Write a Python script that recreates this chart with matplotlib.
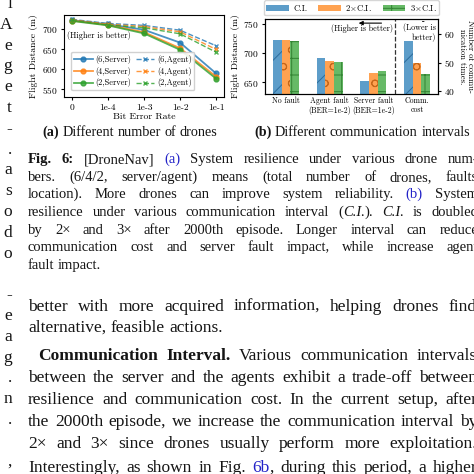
import matplotlib
matplotlib.use("Agg")
import matplotlib.pyplot as plt

W = 474  # figure size in pixels (square)

# (a) flight distance vs bit error rate
ber_labels = ["0", "1e-4", "1e-3", "1e-2", "1e-1"]
server6 = [722, 712, 698, 666, 589]
server4 = [721, 710, 692, 652, 581]
server2 = [720, 709, 689, 648, 576]
agent6 = [724, 714, 709, 697, 658]
agent4 = [723, 712, 706, 693, 649]
agent2 = [722, 710, 703, 688, 642]

# (b) communication intervals
group_labels = ["No fault", "Agent fault\n(BER=1e-2)", "Server fault\n(BER=1e-2)", "Comm.\ncost"]
ci_labels = ["C.I.", r"2$\times$C.I.", r"3$\times$C.I."]
dist_ci1 = [722, 691, 653]
dist_ci2 = [722, 687, 666]
dist_ci3 = [721, 685, 670]
comm_times = [60, 50, 46]

# page text around the figure
caption_lines = [
    "b~Fig. b~6: [DroneNav] l~(a) System resilience under various drone num-",
    "bers. (6/4/2, server/agent) means (total number of drones, faults",
    "location). More drones can improve system reliability. l~(b) System",
    "resilience under various communication interval (|i~C.I.|). i~C.I. is doubled",
    "by 2× and 3× after 2000th episode. Longer interval can reduce",
    "communication cost and server fault impact, while increase agent",
    "fault impact.",
]
body_lines = [
    "better with more acquired information, helping drones find",
    "alternative, feasible actions.",
    "b~Communication b~Interval. Various communication intervals",
    "between the server and the agents exhibit a trade-off between",
    "resilience and communication cost. In the current setup, after",
    "the 2000th episode, we increase the communication interval by",
    "2× and 3× since drones usually perform more exploitation.",
    "Interestingly, as shown in Fig. l~6b|, during this period, a higher",
]
left_col_chars = ["l", "A", "e", "g", "e", "t", "-", ".", "a", "s", "o", "d", "o", "",
                  "-", "e", "a", "g", ".", "n", ".", "", ","]

plt.rcParams["font.family"] = ["cmr10", "DejaVu Serif"]
plt.rcParams["mathtext.fontset"] = "cm"
plt.rcParams["axes.formatter.use_mathtext"] = True
plt.rcParams["axes.linewidth"] = 0.8
plt.rcParams["hatch.linewidth"] = 0.7

blue, orange, green = "#1f77b4", "#ff7f0e", "#2ca02c"

fig = plt.figure(figsize=(W / 100, W / 100), dpi=100)


def ax_box(left, top, right, bottom):
    return [left / W, 1 - bottom / W, (right - left) / W, (bottom - top) / W]


# ---- (a) line chart
ax1 = fig.add_axes(ax_box(64, 15, 224, 97))
xs = range(len(ber_labels))
for vals, c, lab in [(server6, blue, "(6,Server)"), (server4, orange, "(4,Server)"),
                     (server2, green, "(2,Server)")]:
    ax1.plot(xs, vals, "-o", color=c, alpha=0.8, lw=1.3, ms=3.5, label=lab)
for vals, c, lab in [(agent6, blue, "(6,Agent)"), (agent4, orange, "(4,Agent)"),
                     (agent2, green, "(2,Agent)")]:
    ax1.plot(xs, vals, "--x", color=c, alpha=0.8, lw=1.0, ms=3.5, label=lab)
ax1.set_xlim(-0.22, 4.22)
ax1.set_ylim(530, 735)
ax1.set_yticks([550, 600, 650, 700])
ax1.set_xticks(list(xs))
ax1.set_xticklabels(ber_labels)
ax1.tick_params(labelsize=6.8, length=2.5, pad=2)
ax1.set_xlabel("Bit Error Rate", fontsize=7, labelpad=1)
ax1.set_ylabel("Flight Distance (m)", fontsize=7, labelpad=3)
ax1.text(0.02, 0.72, "(Higher is better)", transform=ax1.transAxes, fontsize=6)
ax1.legend(ncol=2, loc="lower left", bbox_to_anchor=(0.02, 0.03), fontsize=6,
           handlelength=2.2, columnspacing=0.6, labelspacing=0.35, borderpad=0.35,
           handletextpad=0.3, framealpha=0.9)

# ---- (b) bar chart with twin axis
ax2 = fig.add_axes(ax_box(265, 19, 438, 94))
ax3 = ax2.twinx()
bw = 0.2
gx = list(range(len(group_labels)))
styles = [(blue, "/", "#1a5a8a"), (orange, "o", "#b5560a"), (green, "+", "#1f6f1f")]
dists = [dist_ci1, dist_ci2, dist_ci3]
for k, ((fc, hat, hc), vals) in enumerate(zip(styles, dists)):
    off = (k - 1) * bw
    ax2.bar([g + off for g in gx[:3]], vals, bw, color=fc, alpha=0.72, hatch=hat,
            edgecolor=hc, lw=0, label=ci_labels[k])
    ax3.bar(gx[3] + off, comm_times[k], bw, color=fc, alpha=0.72, hatch=hat,
            edgecolor=hc, lw=0)
ax2.set_xlim(-0.48, 3.48)
ax2.set_ylim(630, 758)
ax2.set_yticks([650, 700, 750])
ax3.set_ylim(39, 65.3)
ax3.set_yticks([40, 50, 60])
ax2.set_xticks(gx)
ax2.set_xticklabels(group_labels, linespacing=1.1)
ax2.tick_params(labelsize=6.8, length=2.5, pad=2)
ax2.tick_params(axis="x", length=0, labelsize=5.6)
ax3.tick_params(labelsize=6.8, length=2.5, pad=2)
ax2.set_ylabel("Flight Distance (m)", fontsize=7, labelpad=2)
ax3.set_ylabel("Number of commu-\nnication times.", fontsize=6.2, rotation=270,
               labelpad=14, linespacing=1.0)
ax2.axvline(2.5, color="#333333", lw=0.9, ls="--")
ax2.annotate("", xy=(1.6, 0.945), xytext=(2.25, 0.945), xycoords=("data", "axes fraction"),
             arrowprops=dict(arrowstyle="-|>", color="black", lw=0.8, mutation_scale=6))
ax2.text(2.44, 0.875, "(Higher is better)", transform=ax2.get_xaxis_transform(),
         fontsize=5.8, ha="right", va="center")
ax2.annotate("", xy=(3.3, 0.945), xytext=(2.7, 0.945), xycoords=("data", "axes fraction"),
             arrowprops=dict(arrowstyle="-|>", color="black", lw=0.8, mutation_scale=6))
ax3.text(3.43, 0.83, "(Lower is\nbetter)", transform=ax3.get_xaxis_transform(),
         fontsize=5.8, ha="right", va="center", multialignment="right", linespacing=1.0,
         zorder=5, bbox=dict(fc="white", ec="none", pad=0.5))
ax2.legend(ncol=3, loc="lower center", bbox_to_anchor=(0.5, 0.99), fontsize=6.3,
           handlelength=2.6, columnspacing=1.2, handletextpad=0.5, borderpad=0.3,
           frameon=True)

# ---- page text, laid out in pixel coordinates
serif = ["Liberation Serif", "DejaVu Serif"]
ink = "#151515"
link = "#2323c8"
renderer = fig.canvas.get_renderer()


def props(st):
    p = dict(family=serif, color=ink)
    if st == "b":
        p["weight"] = "bold"
    elif st == "i":
        p["style"] = "italic"
    elif st == "l":
        p["color"] = link
    return p


def measure(s, st, size):
    t = fig.text(0, 0, s, fontsize=size, **props(st))
    w = t.get_window_extent(renderer).width
    t.remove()
    return w


def parse(line):
    words = []
    for w in line.split(" "):
        segs = []
        for seg in w.split("|"):
            if len(seg) > 2 and seg[1] == "~":
                segs.append((seg[2:], seg[0]))
            else:
                segs.append((seg, "n"))
        words.append(segs)
    return words


def put_line(line, y, x0, x1, size, justify=True, center=None):
    words = parse(line)
    widths = [sum(measure(s, st, size) for s, st in w) for w in words]
    space = measure("a a", "n", size) - measure("aa", "n", size)
    if justify and len(words) > 1:
        gap = (x1 - x0 - sum(widths)) / (len(words) - 1)
    else:
        gap = space
    if center is not None:
        x0 = center - (sum(widths) + gap * (len(words) - 1)) / 2
    x = x0
    for w, wd in zip(words, widths):
        xx = x
        for s, st in w:
            fig.text(xx / W, 1 - y / W, s, fontsize=size, va="baseline", **props(st))
            xx += measure(s, st, size)
        x += wd + gap


put_line("b~(a) Different number of drones", 136, 0, 0, 10.2, justify=False, center=130)
put_line("b~(b) Different communication intervals", 136, 0, 0, 10.2, justify=False, center=362)

cap_y = [163, 181, 198, 216, 234, 251, 269]
for i, (ln, y) in enumerate(zip(caption_lines, cap_y)):
    put_line(ln, y, 28, 478, 10.5, justify=i < len(caption_lines) - 1)

body_y = [311, 332, 360, 382, 404, 426, 448, 472]
body_x0 = [28, 28, 38, 28, 28, 28, 28, 28]
for i, (ln, y, x0) in enumerate(zip(body_lines, body_y, body_x0)):
    put_line(ln, y, x0, 477, 12.5, justify=i != 1)

for i, ch in enumerate(left_col_chars):
    if ch:
        fig.text(12 / W, 1 - (8 + 20.8 * i) / W, ch, fontsize=12.5, ha="right",
                 va="baseline", **props("n"))

fig.savefig("out.png", dpi=100)
